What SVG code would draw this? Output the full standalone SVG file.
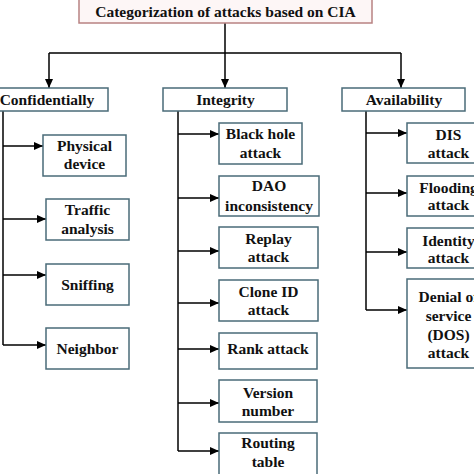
<svg xmlns="http://www.w3.org/2000/svg" width="474" height="474" viewBox="0 0 474 474">
<style>
.box{fill:#fff;stroke:#4a6b78;stroke-width:1.5}
.top{fill:#fdf6f6;stroke:#b88282;stroke-width:1.5}
text{font-family:"Liberation Serif","Times New Roman",serif;font-weight:bold;font-size:15.5px;fill:#111;text-anchor:middle}
.c{fill:none;stroke:#000;stroke-width:1.5}
</style>
<defs>
<marker id="ah" markerUnits="userSpaceOnUse" markerWidth="10" markerHeight="9" refX="9" refY="4" orient="auto">
<path d="M0,0 L9,4 L0,8 z" fill="#000"/>
</marker>
</defs>
<rect width="474" height="474" fill="#fff"/>
<g id="connectors">
<path class="c" d="M225 23 V53 M49 53 H401"/>
<path class="c" d="M49 53 V88" marker-end="url(#ah)"/>
<path class="c" d="M225 53 V88" marker-end="url(#ah)"/>
<path class="c" d="M401 53 V88" marker-end="url(#ah)"/>
<path class="c" d="M3 111 V345"/>
<path class="c" d="M3 146 H43" marker-end="url(#ah)"/>
<path class="c" d="M3 219 H46" marker-end="url(#ah)"/>
<path class="c" d="M3 275 H46" marker-end="url(#ah)"/>
<path class="c" d="M3 345 H46" marker-end="url(#ah)"/>
<path class="c" d="M178 111 V451"/>
<path class="c" d="M178 134 H219" marker-end="url(#ah)"/>
<path class="c" d="M178 198 H219" marker-end="url(#ah)"/>
<path class="c" d="M178 251 H219" marker-end="url(#ah)"/>
<path class="c" d="M178 303 H219" marker-end="url(#ah)"/>
<path class="c" d="M178 349 H219" marker-end="url(#ah)"/>
<path class="c" d="M178 403 H219" marker-end="url(#ah)"/>
<path class="c" d="M178 451 H219" marker-end="url(#ah)"/>
<path class="c" d="M366 111 V310"/>
<path class="c" d="M366 133 H407" marker-end="url(#ah)"/>
<path class="c" d="M366 193 H407" marker-end="url(#ah)"/>
<path class="c" d="M366 252 H407" marker-end="url(#ah)"/>
<path class="c" d="M366 310 H407" marker-end="url(#ah)"/>
</g>
<g id="root"><rect class="top" x="79" y="-1" width="293" height="24"/><text x="225.5" y="17">Categorization of attacks based on CIA</text></g>
<g id="confidentially"><rect class="box" x="-14" y="88" width="122" height="23"/><text x="47" y="105">Confidentially</text></g>
<g id="integrity"><rect class="box" x="163" y="88" width="124" height="23"/><text x="225.5" y="105">Integrity</text></g>
<g id="availability"><rect class="box" x="342" y="88" width="123" height="23"/><text x="404" y="105">Availability</text></g>
<g id="physical"><rect class="box" x="43" y="135" width="83" height="41"/><text x="84.5" y="151">Physical</text><text x="84.5" y="169">device</text></g>
<g id="traffic"><rect class="box" x="46" y="199" width="83" height="41"/><text x="87.5" y="215">Traffic</text><text x="87.5" y="234">analysis</text></g>
<g id="sniffing"><rect class="box" x="46" y="264" width="83" height="41"/><text x="87.5" y="290">Sniffing</text></g>
<g id="neighbor"><rect class="box" x="46" y="328" width="83" height="41"/><text x="87.5" y="354">Neighbor</text></g>
<g id="blackhole"><rect class="box" x="219" y="123" width="83" height="41"/><text x="260.5" y="139">Black hole</text><text x="260.5" y="158">attack</text></g>
<g id="dao"><rect class="box" x="219" y="176" width="100" height="40"/><text x="269" y="191">DAO</text><text x="269" y="211">inconsistency</text></g>
<g id="replay"><rect class="box" x="219" y="227" width="99" height="41"/><text x="268.5" y="244">Replay</text><text x="268.5" y="262">attack</text></g>
<g id="clone"><rect class="box" x="219" y="280" width="99" height="41"/><text x="268.5" y="297">Clone ID</text><text x="268.5" y="315">attack</text></g>
<g id="rank"><rect class="box" x="219" y="333" width="98" height="36"/><text x="268" y="354">Rank attack</text></g>
<g id="version"><rect class="box" x="219" y="380" width="98" height="42"/><text x="268" y="398">Version</text><text x="268" y="416">number</text></g>
<g id="routing"><rect class="box" x="219" y="433" width="98" height="50"/><text x="268" y="448">Routing</text><text x="268" y="467">table</text></g>
<g id="dis"><rect class="box" x="407" y="123" width="83" height="40"/><text x="448.5" y="140">DIS</text><text x="448.5" y="158">attack</text></g>
<g id="flooding"><rect class="box" x="407" y="176" width="83" height="40"/><text x="448.5" y="193">Flooding</text><text x="448.5" y="210">attack</text></g>
<g id="identity"><rect class="box" x="407" y="228" width="83" height="40"/><text x="448.5" y="246">Identity</text><text x="448.5" y="263">attack</text></g>
<g id="dos"><rect class="box" x="407" y="279" width="83" height="89"/><text x="448.5" y="302">Denial of</text><text x="448.5" y="321">service</text><text x="448.5" y="340">(DOS)</text><text x="448.5" y="358">attack</text></g>
</svg>
